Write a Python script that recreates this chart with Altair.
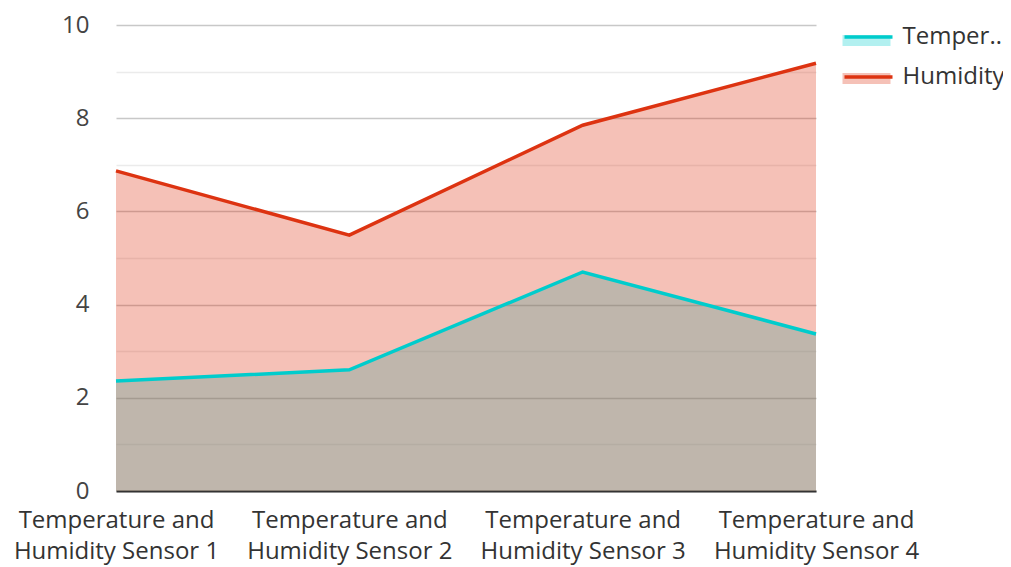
import altair as alt
import pandas as pd

sensors = [
    "Temperature and Humidity Sensor 1",
    "Temperature and Humidity Sensor 2",
    "Temperature and Humidity Sensor 3",
    "Temperature and Humidity Sensor 4",
]
temperature = [2.36, 2.60, 4.70, 3.37]
humidity = [6.87, 5.49, 7.85, 9.18]
series_names = ["Temperature", "Humidity"]
colors = ["#00CCCC", "#DD3311"]

rows = []
for name, vals in zip(series_names, [temperature, humidity]):
    for s, v in zip(sensors, vals):
        rows.append({"sensor": s, "series": name, "series_line": name, "value": v})
df = pd.DataFrame(rows)

FONT = "Open Sans"
FS = 24

x = alt.X(
    "sensor:N",
    sort=sensors,
    scale=alt.Scale(type="point", padding=0),
    axis=alt.Axis(
        title=None,
        labelAngle=0,
        labelExpr="[slice(datum.label, 0, 15), slice(datum.label, 16)]",
        labelFontSize=FS,
        labelColor="#333333",
        labelLineHeight=31,
        labelPadding=17,
        labelLimit=400,
        ticks=False,
        domainColor="#333333",
        domainWidth=2,
        grid=False,
    ),
)
y = alt.Y(
    "value:Q",
    scale=alt.Scale(domain=[0, 10], nice=False),
    axis=alt.Axis(
        title=None,
        values=list(range(11)),
        labelExpr="datum.value % 2 === 0 ? datum.label : ''",
        labelFontSize=FS,
        labelColor="#444444",
        labelPadding=27,
        ticks=False,
        domain=False,
        gridColor={"condition": {"test": "datum.value % 2 === 0", "value": "#c8c8c8"}, "value": "#ebebeb"},
        gridWidth=1.5,
    ),
)

fill = alt.Fill(
    "series:N",
    sort=series_names,
    scale=alt.Scale(range=colors),
    legend=alt.Legend(
        title=None,
        orient="none",
        legendX=726.5,
        legendY=-14,
        symbolType="M-1,0H1V0.46H-1Z",
        symbolSize=2304,
        symbolOpacity=0.3,
        symbolStrokeWidth=0,
        labelOpacity=0,
        labelFontSize=FS,
        labelOffset=8,
        labelLimit=112,
        padding=0,
    ),
)
stroke = alt.Stroke(
    "series_line:N",
    sort=series_names,
    scale=alt.Scale(range=colors),
    legend=alt.Legend(
        title=None,
        orient="none",
        legendX=726.5,
        legendY=-14,
        symbolType="M-1,0H1",
        symbolSize=2304,
        symbolStrokeWidth=3.5,
        labelFontSize=FS,
        labelColor="#333333",
        labelOffset=8,
        labelLimit=112,
        padding=0,
    ),
)

base = alt.Chart(df)
layers = []
for name in series_names:
    layers.append(
        base.transform_filter(alt.datum.series == name)
        .mark_area(fillOpacity=0.3)
        .encode(x=x, y=y, fill=fill)
    )
for name in series_names:
    layers.append(
        base.transform_filter(alt.datum.series == name)
        .mark_line(strokeWidth=3.5)
        .encode(x=x, y=y, stroke=stroke)
    )

chart = (
    alt.layer(*layers)
    .properties(
        width=700,
        height=466,
        autosize=alt.AutoSizeParams(type="none"),
        padding={"left": 108, "top": 17, "right": 187, "bottom": 76},
    )
    .configure(font=FONT)
    .configure_view(stroke=None)
)

chart.save("out.html", embed_options={"renderer": "svg", "actions": False})
